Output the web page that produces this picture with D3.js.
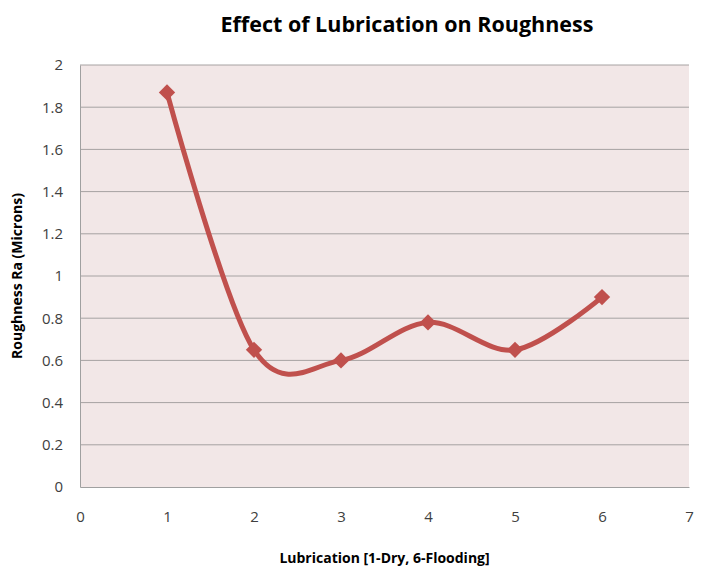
<!DOCTYPE html>
<html>
<head>
<meta charset="utf-8">
<script src="https://cdn.jsdelivr.net/npm/d3@7"></script>
<style>
  body { margin: 0; background: #fff; }
  text { font-family: "Open Sans", Lato, sans-serif; }
</style>
</head>
<body>
<div id="chart"></div>
<script>
// lubrication level (1 = dry ... 6 = flooding) and measured Ra
const lubrication = [1, 2, 3, 4, 5, 6];
const roughness = [1.87, 0.65, 0.60, 0.78, 0.65, 0.90];
const xTicks = [0, 1, 2, 3, 4, 5, 6, 7];
const yTicks = [0, 0.2, 0.4, 0.6, 0.8, 1, 1.2, 1.4, 1.6, 1.8, 2];

const W = 720, H = 574;
const margin = ({ top: 65, right: 31, bottom: 87, left: 80 });
const width = W - margin.left - margin.right,
    height = H - margin.top - margin.bottom;

const root = d3.select("#chart").append("svg")
    .attr("width", W)
    .attr("height", H);

const svg = root.append("g")
    .attr("transform", `translate(${margin.left},${margin.top})`);

const data = lubrication.map((x, i) => ({ x: x, y: roughness[i] }));

const xScale = d3.scaleLinear().domain([0, 7]).range([0, width]);
const yScale = d3.scaleLinear().domain([0, 2]).range([height, 0]);

// plot background
svg.append("rect")
    .attr("width", width)
    .attr("height", height)
    .attr("fill", "#f2e7e7");

// gridlines
svg.append("g")
    .selectAll("line")
    .data(yTicks.filter(d => d > 0))
    .join("line")
    .attr("x1", 0)
    .attr("x2", width)
    .attr("y1", d => yScale(d))
    .attr("y2", d => yScale(d))
    .attr("stroke", "#a6a2a2")
    .attr("stroke-width", 1);

// axes
let yAxis = d3.axisLeft(yScale).tickValues(yTicks).tickSize(0).tickPadding(17).tickFormat(d3.format("~g"));
let xAxis = d3.axisBottom(xScale).tickValues(xTicks).tickSize(0).tickPadding(24).tickFormat(d3.format("d"));

svg.append("g")
    .attr("class", "axis y-axis")
    .call(yAxis)
    .call(g => g.select(".domain").attr("stroke", "#a0a0a0"))
    .selectAll("text")
    .attr("font-size", 15)
    .attr("fill", "#404040");

svg.append("g")
    .attr("class", "axis x-axis")
    .attr("transform", `translate(0,${height})`)
    .call(xAxis)
    .call(g => g.select(".domain").attr("stroke", "#a0a0a0"))
    .selectAll("text")
    .attr("font-size", 15)
    .attr("fill", "#404040");

// smoothed series line, Excel-like
const line = d3.line()
    .curve(d3.curveCardinal.tension(0))
    .x(d => xScale(d.x))
    .y(d => yScale(d.y));

svg.append("path")
    .datum(data)
    .attr("d", line)
    .attr("fill", "none")
    .attr("stroke", "#c0504d")
    .attr("stroke-width", 5)
    .attr("stroke-linejoin", "round")
    .attr("stroke-linecap", "round");

// diamond markers
svg.append("g")
    .selectAll("path")
    .data(data)
    .join("path")
    .attr("d", d3.symbol().type(d3.symbolDiamond2).size(170))
    .attr("transform", d => `translate(${xScale(d.x)},${yScale(d.y)})`)
    .attr("fill", "#c0504d");

// titles
root.append("text")
    .attr("x", 407)
    .attr("y", 32)
    .attr("text-anchor", "middle")
    .attr("font-size", 21.5)
    .attr("font-weight", "bold")
    .attr("fill", "#000")
    .text("Effect of Lubrication on Roughness");

root.append("text")
    .attr("transform", `translate(22,${margin.top + height / 2}) rotate(-90)`)
    .attr("text-anchor", "middle")
    .attr("font-size", 14)
    .attr("font-weight", "bold")
    .attr("fill", "#000")
    .text("Roughness Ra (Microns)");

root.append("text")
    .attr("x", margin.left + width / 2)
    .attr("y", 563)
    .attr("text-anchor", "middle")
    .attr("font-size", 14)
    .attr("font-weight", "bold")
    .attr("fill", "#000")
    .text("Lubrication [1-Dry, 6-Flooding]");
</script>
</body>
</html>
